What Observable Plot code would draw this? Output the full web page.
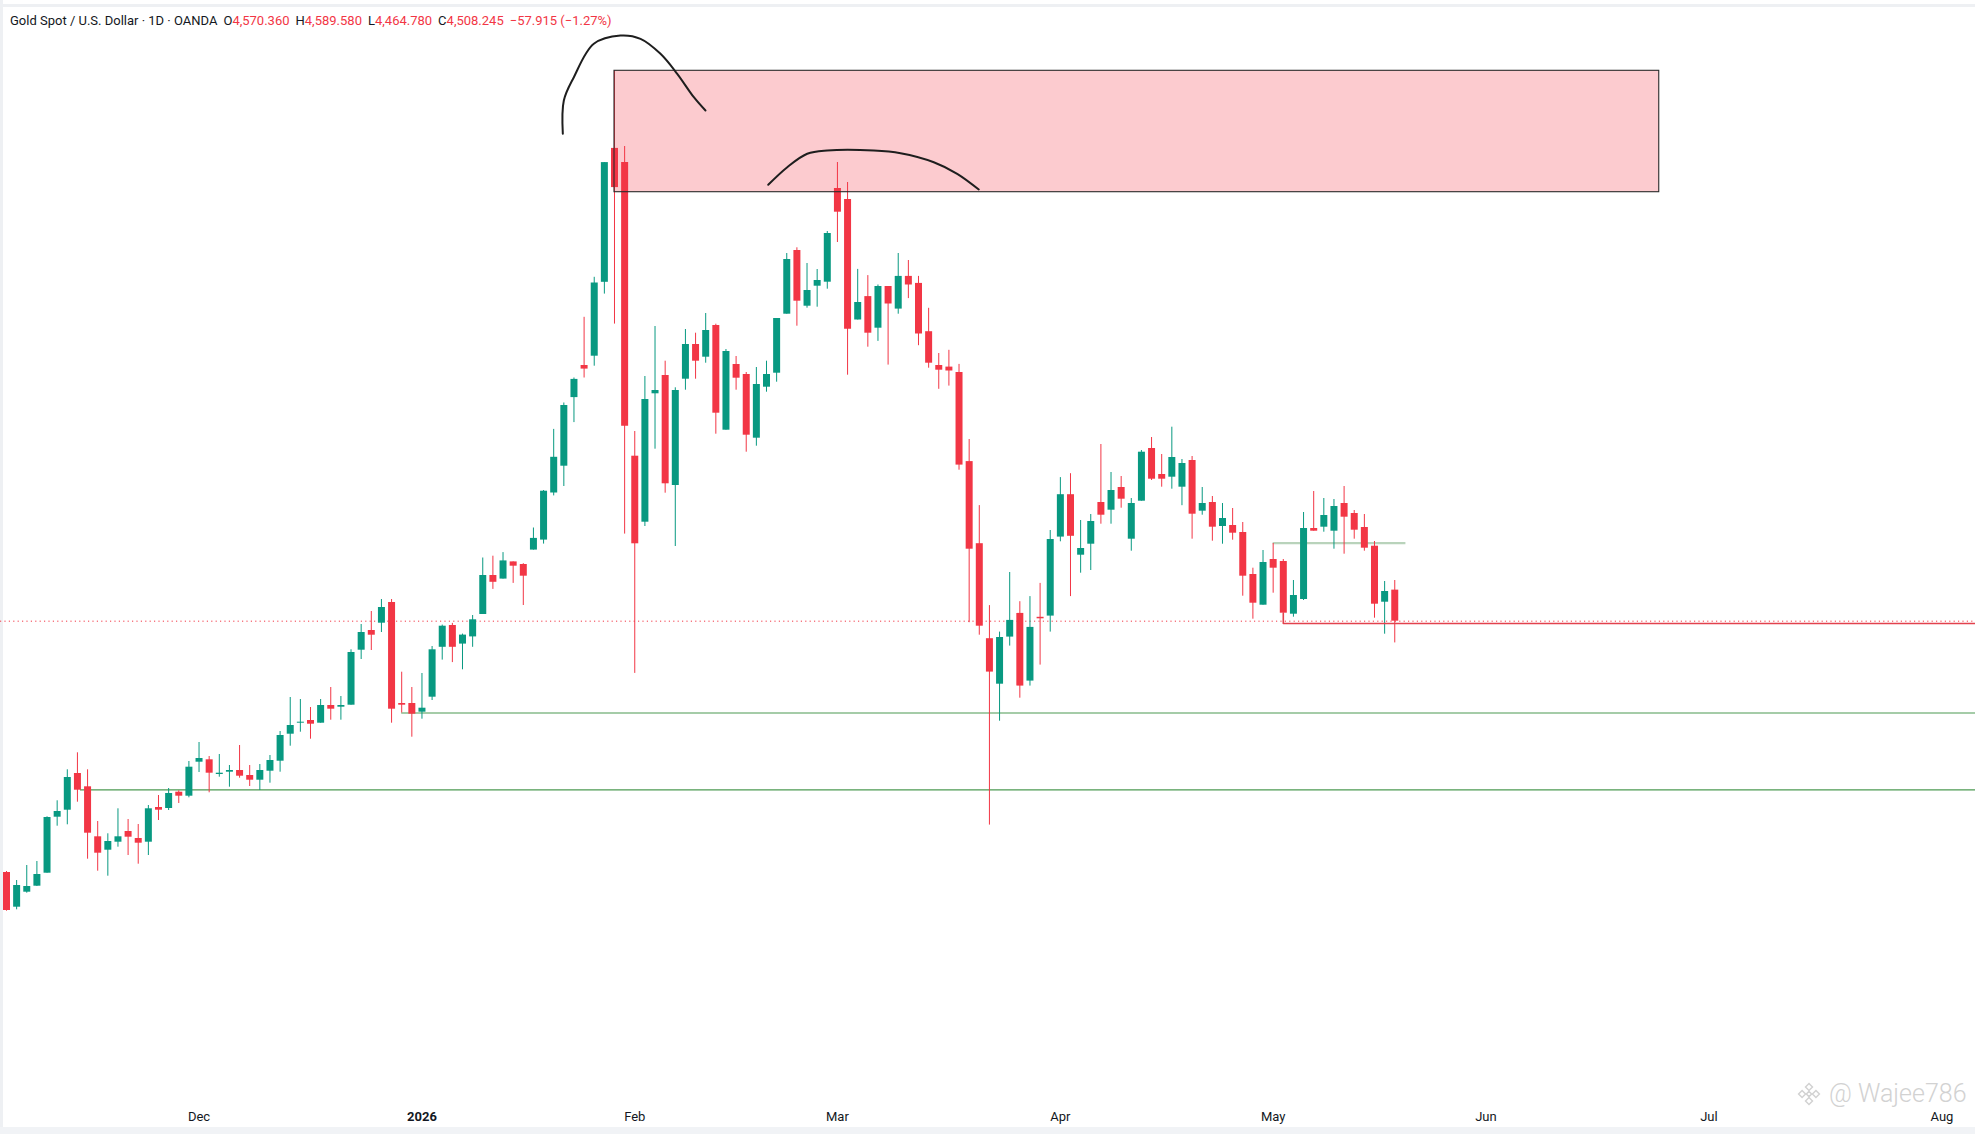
<!DOCTYPE html>
<html><head><meta charset="utf-8">
<script src="https://cdn.jsdelivr.net/npm/d3@7"></script>
<script src="https://cdn.jsdelivr.net/npm/@observablehq/plot@0.6"></script>
<style>
html,body{margin:0;padding:0;background:#fff;}
#wrap{position:relative;width:1975px;height:1134px;overflow:hidden;background:#fff;font-family:Roboto, "Noto Sans", sans-serif;}
.fr{position:absolute;background:#eef0f3}
#hdr{position:absolute;left:10px;top:12px;font-size:13px;line-height:18px;color:#131722;white-space:nowrap;font-family:Roboto, sans-serif}
#hdr .v{color:#f23645}
#hdr .g{margin-left:6px}
#chart{position:absolute;left:0;top:32px}
#wm{position:absolute;left:1796px;top:1081px;height:26px;display:flex;align-items:center;color:#d2d2d2;font-size:25px;font-weight:300;font-family:Roboto, sans-serif;white-space:nowrap;line-height:26px}
</style></head>
<body>
<div id="wrap">
  <div class="fr" style="left:0;top:4px;width:1975px;height:3px"></div>
  <div class="fr" style="left:0;top:0;width:3px;height:1134px"></div>
  <div class="fr" style="left:0;top:1127px;width:1975px;height:7px;background:#f1f3f6"></div>
  <div id="hdr"></div>
  <div id="chart"></div>
  <div id="wm"><svg width="26" height="26" viewBox="0 0 30 30" style="margin-right:7px"><g fill="none" stroke="#d2d2d2" stroke-width="1.7"><path d="M15 3 L19 7 L15 11 L11 7 Z"/><path d="M15 19 L19 23 L15 27 L11 23 Z"/><path d="M7 11 L11 15 L7 19 L3 15 Z"/><path d="M23 11 L27 15 L23 19 L19 15 Z"/><path d="M15 12 L18 15 L15 18 L12 15 Z"/></g></svg><span>@ Wajee786</span></div>
</div>
<script>
// ---- header ----
const symbolTitle = "Gold Spot / U.S. Dollar · 1D · OANDA";
const changeText = "−57.915 (−1.27%)";

// ---- daily candles (trading-day index 0..137) ----
const O = [4005.6,3936.2,3966.2,3978.2,4004.2,4116.2,4130.2,4203.6,4177.0,4077.0,4050.2,4066.2,4087.6,4073.6,4066.2,4135.6,4133.6,4166.2,4158.2,4226.2,
4231.0,4201.6,4206.2,4209.6,4199.6,4190.2,4208.2,4228.2,4282.2,4304.2,4309.6,4304.2,4339.6,4336.2,4340.2,4450.2,4489.6,4504.2,4545.6,4343.6,
4343.6,4326.2,4356.2,4456.0,4499.6,4462.4,4476.8,4521.6,4599.6,4592.4,4626.8,4621.6,4650.4,4670.4,4764.6,4818.2,4955.4,5019.6,5038.2,5186.0,
5453.8,5425.4,4838.2,4706.2,4963.0,4999.6,4779.6,4992.2,5061.6,5036.2,5099.6,4890.2,5021.6,5001.6,4874.2,4976.2,5004.2,5122.2,5249.6,5138.2,
5178.2,5186.2,5373.6,5351.6,5110.6,5157.4,5094.2,5177.6,5132.4,5197.8,5183.8,5087.2,5019.6,5016.4,5005.6,4827.4,4663.2,4473.2,4382.2,4476.4,
4523.8,4388.4,4516.0,4518.4,4676.4,4761.2,4640.2,4662.2,4745.6,4730.2,4775.6,4672.2,4748.2,4853.6,4801.6,4796.2,4776.2,4829.6,4728.2,4745.6,
4697.6,4699.6,4685.6,4601.6,4540.2,4631.6,4627.6,4522.2,4551.6,4693.6,4696.2,4688.2,4743.6,4723.6,4695.6,4658.2,4546.2,4570.36];
const H = [4007.6,3989.6,4019.6,4027.6,4117.0,4149.0,4211.0,4245.0,4211.0,4107.6,4083.0,4133.0,4111.6,4101.6,4139.6,4159.6,4173.6,4169.0,4227.6,4265.6,
4237.6,4241.6,4219.6,4259.6,4219.6,4221.6,4239.6,4287.6,4355.6,4351.6,4335.6,4351.6,4375.6,4357.6,4451.0,4501.6,4527.6,4551.6,4551.6,4406.2,
4375.6,4403.6,4457.6,4500.4,4503.8,4482.4,4519.6,4634.6,4638.2,4645.4,4626.8,4623.2,4694.6,4769.6,4891.8,4944.6,4994.6,5116.0,5196.0,5425.4,
5608.6,5457.6,4887.6,4997.6,5097.6,5028.2,4975.0,5091.6,5084.2,5123.6,5102.2,5051.6,5037.6,5005.6,5015.6,5028.2,5113.6,5243.6,5255.0,5223.6,
5211.6,5287.6,5425.6,5385.6,5211.8,5199.4,5180.6,5177.6,5243.6,5229.6,5197.8,5134.0,5043.6,5050.0,5021.8,4871.6,4739.4,4539.4,4486.4,4605.6,
4547.2,4557.4,4583.8,4689.6,4795.4,4803.2,4709.6,4721.6,4861.6,4805.6,4797.6,4753.6,4849.6,4875.6,4841.6,4896.2,4831.6,4837.6,4775.6,4757.6,
4743.6,4733.6,4705.6,4614.2,4649.6,4663.6,4631.6,4589.6,4725.6,4767.6,4753.6,4751.6,4777.6,4729.6,4721.6,4667.6,4587.6,4589.58];
const L = [3928.2,3931.0,3964.2,3977.6,4004.2,4098.2,4101.0,4146.2,4032.2,4008.2,3998.2,4056.2,4039.6,4022.2,4039.6,4109.6,4129.6,4143.6,4155.0,4205.6,
4165.0,4196.2,4176.2,4194.2,4177.6,4169.6,4184.2,4206.2,4258.2,4286.2,4272.2,4304.2,4310.2,4310.2,4340.2,4431.6,4449.6,4485.6,4304.2,4324.6,
4276.2,4312.2,4349.6,4430.4,4425.4,4411.0,4456.0,4521.6,4571.8,4592.4,4583.8,4539.6,4650.4,4662.4,4758.8,4777.6,4905.4,4994.6,5018.2,5162.4,
5102.4,4682.4,4403.8,4697.6,4852.2,4764.2,4657.6,4970.2,4992.2,5024.2,4882.2,4890.2,4970.2,4846.2,4858.2,4966.2,4986.2,5122.2,5098.2,5134.2,
5136.2,5172.2,5265.6,5000.2,5110.6,5056.2,5067.8,5020.4,5122.2,5153.4,5059.2,5014.2,4972.0,4978.4,4810.2,4505.2,4480.2,4100.4,4308.2,4458.4,
4354.2,4378.4,4420.4,4486.4,4667.0,4557.4,4604.2,4609.6,4702.2,4702.2,4734.2,4648.2,4748.2,4789.6,4776.2,4772.2,4739.2,4672.2,4720.2,4668.2,
4662.2,4670.2,4558.2,4512.2,4540.2,4564.2,4524.2,4516.2,4549.6,4688.2,4686.2,4652.2,4642.2,4672.2,4648.2,4514.2,4482.2,4464.78];
const C = [3929.6,3979.6,3977.6,4001.6,4115.6,4127.6,4195.6,4170.2,4084.2,4044.2,4067.6,4077.0,4076.2,4064.2,4133.0,4130.2,4163.6,4158.2,4216.2,4233.6,
4204.2,4204.2,4209.6,4198.2,4190.2,4209.6,4229.6,4279.6,4299.6,4306.2,4302.2,4339.6,4332.2,4339.6,4445.6,4485.6,4480.2,4535.6,4332.2,4340.2,
4322.2,4334.2,4451.0,4498.2,4456.0,4480.4,4511.0,4599.6,4586.0,4628.8,4618.2,4598.2,4673.8,4768.2,4836.0,4939.6,4991.8,5012.4,5184.6,5425.4,
5375.4,4898.2,4663.0,4951.6,4969.6,4783.0,4969.6,5061.6,5028.2,5089.6,4924.2,5047.6,4994.2,4880.2,4981.6,5001.6,5113.6,5231.6,5148.2,5169.6,
5189.6,5283.6,5326.2,5092.2,5145.6,5084.2,5177.6,5142.6,5197.8,5180.6,5082.6,5024.2,5010.2,5008.6,4820.4,4652.2,4498.2,4406.4,4475.6,4509.8,
4378.4,4495.8,4513.0,4671.6,4761.2,4678.0,4653.6,4707.6,4720.2,4769.6,4752.2,4743.6,4846.2,4792.2,4792.2,4835.6,4823.6,4722.2,4743.6,4696.2,
4713.6,4684.2,4598.2,4544.2,4625.6,4614.2,4524.2,4559.6,4693.6,4688.2,4719.6,4737.6,4716.2,4690.2,4654.2,4542.2,4567.6,4508.245];

// ---- time axis (trading-day index of each month start) ----
const monthTickIndex = [19, 41, 62, 82, 104, 125, 146, 168, 191];
const monthTickLabel = ["Dec", "2026", "Feb", "Mar", "Apr", "May", "Jun", "Jul", "Aug"];
const xDomain = [-0.592, 194.31];
const yDomain = [3549.6, 5685.6];

// ---- drawings ----
const supplyZone = [{x1: 60, x2: 163.1, top: 5609.0, bottom: 5366.2}];
const greenLevels = [{price: 4324.6, from: 39}, {price: 4171.0, from: 7.3}];
const grayLevel = [{price: 4664.2, from: 125, to: 138.1}];
const redLevel = [[126, 4524.2], [126, 4503.6], [194.31, 4503.6]];
const arc1 = [[54.9,5483.0],[55.0,5549.6],[55.99,5596.2],[57.96,5663.0],[60.59,5679.6],[62.57,5673.0],[64.54,5643.0],[66.19,5603.0],[67.83,5556.2],[68.98,5529.6]];
const arc2 = [[75.17,5381.0],[77.05,5416.2],[79.02,5443.0],[80.99,5449.6],[85.59,5449.6],[88.23,5444.2],[91.51,5426.2],[93.82,5403.0],[95.95,5371.6]];

const UP = "#089981", DOWN = "#f23645";
const rows = O.map((o, i) => ({i, o, h: H[i], l: L[i], c: C[i], col: C[i] >= o ? UP : DOWN}));
const last = rows[rows.length - 1];

// header
const fmt = d3.format(",.3f");
const hdr = document.getElementById("hdr");
hdr.innerHTML = `<span>${symbolTitle}</span>` +
  `<span class="g">O<span class="v">${fmt(last.o)}</span></span>` +
  `<span class="g">H<span class="v">${fmt(last.h)}</span></span>` +
  `<span class="g">L<span class="v">${fmt(last.l)}</span></span>` +
  `<span class="g">C<span class="v">${fmt(last.c)}</span></span>` +
  `<span class="g v">${changeText}</span>`;

const labelMap = new Map(monthTickIndex.map((d, k) => [d, monthTickLabel[k]]));

const chart = Plot.plot({
  width: 1975, height: 1095,
  marginLeft: 0, marginRight: 0, marginTop: 0, marginBottom: 27,
  x: {type: "linear", domain: xDomain},
  y: {domain: yDomain, axis: null},
  color: {type: "identity"},
  style: {background: "transparent", fontFamily: "Roboto, sans-serif", fontSize: "13px", color: "#131722", overflow: "visible"},
  marks: [
    Plot.rect(supplyZone, {x1: "x1", x2: "x2", y1: "bottom", y2: "top", fill: "#f23645", fillOpacity: 0.26}),
    Plot.ruleY(greenLevels, {y: "price", x1: "from", x2: xDomain[1], stroke: "#4c9a52", strokeWidth: 1.2}),
    Plot.ruleY(grayLevel, {y: "price", x1: "from", x2: "to", stroke: "#b9d3bb", strokeWidth: 2.2}),
    Plot.ruleY([last.c], {stroke: DOWN, strokeWidth: 1, strokeDasharray: "1.2,3.2"}),
    Plot.ruleX(rows, {x: "i", y1: "l", y2: "h", stroke: "col", strokeWidth: 1}),
    Plot.ruleX(rows, {x: "i", y1: "o", y2: "c", stroke: "col", strokeWidth: 7}),
    Plot.line(redLevel, {stroke: "#e2414d", strokeWidth: 1.6}),
    Plot.rect(supplyZone, {x1: "x1", x2: "x2", y1: "bottom", y2: "top", fill: "none", stroke: "#2a2a2a", strokeWidth: 1.1}),
    Plot.line(arc1, {curve: "catmull-rom", stroke: "#1e1e1e", strokeWidth: 2}),
    Plot.line(arc2, {curve: "catmull-rom", stroke: "#1e1e1e", strokeWidth: 2}),
    Plot.axisX({ticks: monthTickIndex, tickFormat: d => labelMap.get(d), tickSize: 0, tickPadding: 11, fontSize: 13, fill: "#131722"})
  ]
});
document.getElementById("chart").appendChild(chart);
d3.select(chart).selectAll("text").filter(function(){ return this.textContent === "2026"; }).attr("font-weight", "bold");
</script>
</body></html>
